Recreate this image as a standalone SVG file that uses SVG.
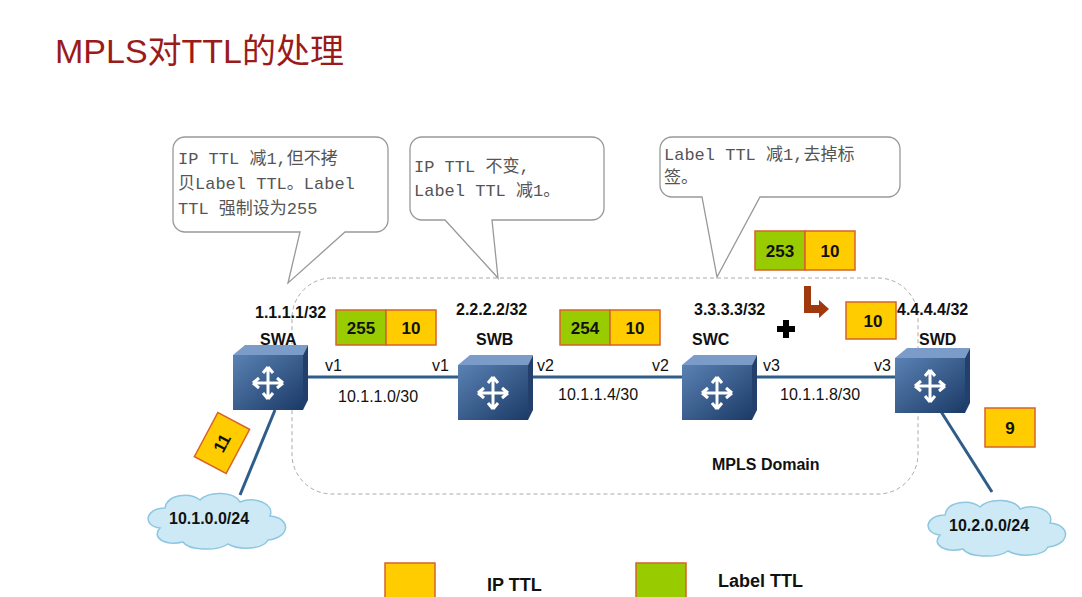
<svg xmlns="http://www.w3.org/2000/svg" width="1082" height="597" viewBox="0 0 1082 597">
<style>
.t{font-family:"Liberation Sans","Noto Sans CJK SC",sans-serif;font-weight:bold;fill:#111}
.m{font-family:"Liberation Mono","Noto Sans CJK SC",monospace;font-size:17px;fill:#555}
.call{fill:#fff;stroke:#999;stroke-width:1.3}
.y{fill:#ffcc00;stroke:#d9622b;stroke-width:1.5}
.g{fill:#99cc00;stroke:#d9622b;stroke-width:1.5}
.lk{stroke:#2f5d8a;stroke-width:3;fill:none}
.cl{fill:#cde9f5;stroke:#8ec7e0;stroke-width:1.5}
</style>
<defs>
<linearGradient id="sw" x1="0" y1="0" x2="1" y2="1"><stop offset="0" stop-color="#5a82b4"/><stop offset="1" stop-color="#1b3a66"/></linearGradient>
<g id="swi">
<polygon points="0,10 12,0 75,0 70,10" fill="#7b9cc8"/>
<polygon points="70,10 75,0 75,55 70,65" fill="#22406b"/>
<rect x="0" y="10" width="70" height="55" fill="url(#sw)"/>
<g stroke="#fff" stroke-width="3" fill="none">
<path d="M20,38 H50 M35,22 V54 M20,38 l6,-5 M20,38 l6,5 M50,38 l-6,-5 M50,38 l-6,5 M35,22 l-5,6 M35,22 l5,6 M35,54 l-5,-6 M35,54 l5,-6"/>
</g>
</g>
</defs>
<rect width="1082" height="597" fill="#fff"/>
<text x="55" y="63" font-family="Liberation Sans,Noto Sans CJK SC,sans-serif" font-size="34" fill="#9b1b1b">MPLS对TTL的处理</text>
<rect x="292" y="278" width="626" height="216" rx="40" fill="none" stroke="#aaa" stroke-dasharray="4,3"/>
<g id="connectors">
<line class="lk" x1="305" y1="377" x2="458" y2="377"/>
<line class="lk" x1="530" y1="377" x2="682" y2="377"/>
<line class="lk" x1="752" y1="377" x2="895" y2="377"/>
<line class="lk" x1="275" y1="410" x2="240" y2="495"/>
<line class="lk" x1="940" y1="410" x2="992" y2="492"/>
</g>
<g id="callout1"><path class="call" d="M185,137 H376 a12,12 0 0 1 12,12 V220 a12,12 0 0 1 -12,12 H345 L288,283 L300,232 H185 a12,12 0 0 1 -12,-12 V149 a12,12 0 0 1 12,-12Z"/>
<text class="m" x="178" y="164">IP TTL 减1,但不拷</text><text class="m" x="178" y="189">贝Label TTL。Label</text><text class="m" x="178" y="214">TTL 强制设为255</text></g>
<g id="callout2"><path class="call" d="M422,137 H592 a12,12 0 0 1 12,12 V208 a12,12 0 0 1 -12,12 H492 L498,278 L445,220 H422 a12,12 0 0 1 -12,-12 V149 a12,12 0 0 1 12,-12Z"/>
<text class="m" x="414" y="172">IP TTL 不变,</text><text class="m" x="414" y="196">Label TTL 减1。</text></g>
<g id="callout3"><path class="call" d="M672,137 H888 a12,12 0 0 1 12,12 V185 a12,12 0 0 1 -12,12 H760 L717,277 L702,197 H672 a12,12 0 0 1 -12,-12 V149 a12,12 0 0 1 12,-12Z"/>
<text class="m" x="664" y="160">Label TTL 减1,去掉标</text><text class="m" x="664" y="183">签。</text></g>
<g id="SWA"><use href="#swi" x="233" y="345"/><text class="t" font-size="16" x="255" y="318">1.1.1.1/32</text><text class="t" font-size="16" x="260" y="345">SWA</text></g>
<g id="SWB"><use href="#swi" x="458" y="355"/><text class="t" font-size="16" x="456" y="315">2.2.2.2/32</text><text class="t" font-size="16" x="476" y="345">SWB</text></g>
<g id="SWC"><use href="#swi" x="682" y="355"/><text class="t" font-size="16" x="694" y="315">3.3.3.3/32</text><text class="t" font-size="16" x="692" y="345">SWC</text></g>
<g id="SWD"><use href="#swi" x="895" y="348"/><text class="t" font-size="16" x="897" y="315">4.4.4.4/32</text><text class="t" font-size="16" x="919" y="345">SWD</text></g>
<g font-family="Liberation Sans,sans-serif" font-size="16" fill="#111">
<text x="325" y="371">v1</text><text x="432" y="371">v1</text><text x="537" y="371">v2</text><text x="652" y="371">v2</text><text x="763" y="371">v3</text><text x="874" y="371">v3</text>
<text x="338" y="402">10.1.1.0/30</text><text x="558" y="400">10.1.1.4/30</text><text x="780" y="400">10.1.1.8/30</text>
</g>
<text class="t" font-size="16" x="712" y="470">MPLS Domain</text>
<g id="cloud1"><path class="cl" d="M160,528 c-18,-2 -15,-20 5,-20 c2,-14 25,-16 35,-8 c10,-10 35,-8 40,2 c15,-6 35,2 30,14 c22,2 20,22 -2,24 c-5,10 -30,10 -40,4 c-12,8 -40,6 -45,-2 c-18,4 -32,-4 -23,-14Z"/><text class="t" font-size="16" x="169" y="524">10.1.0.0/24</text></g>
<g id="cloud2"><path class="cl" d="M940,535 c-18,-2 -15,-20 5,-20 c2,-14 25,-16 35,-8 c10,-10 35,-8 40,2 c15,-6 35,2 30,14 c22,2 20,22 -2,24 c-5,10 -30,10 -40,4 c-12,8 -40,6 -45,-2 c-18,4 -32,-4 -23,-14Z"/><text class="t" font-size="16" x="949" y="531">10.2.0.0/24</text></g>
<g id="pkt1"><rect class="g" x="336" y="310" width="50" height="35"/><rect class="y" x="386" y="310" width="50" height="35"/><text class="t" font-size="17" x="361" y="334" text-anchor="middle">255</text><text class="t" font-size="17" x="411" y="334" text-anchor="middle">10</text></g>
<g id="pkt2"><rect class="g" x="560" y="310" width="50" height="35"/><rect class="y" x="610" y="310" width="50" height="35"/><text class="t" font-size="17" x="585" y="334" text-anchor="middle">254</text><text class="t" font-size="17" x="635" y="334" text-anchor="middle">10</text></g>
<g id="pkt3"><rect class="g" x="755" y="231" width="50" height="39"/><rect class="y" x="805" y="231" width="50" height="39"/><text class="t" font-size="17" x="780" y="257" text-anchor="middle">253</text><text class="t" font-size="17" x="830" y="257" text-anchor="middle">10</text></g>
<g id="pkt4"><rect class="y" x="846" y="302" width="50" height="37"/><text class="t" font-size="17" x="873" y="327" text-anchor="middle">10</text></g>
<g id="pkt5"><rect class="y" x="985" y="408" width="50" height="39"/><text class="t" font-size="17" x="1010" y="434" text-anchor="middle">9</text></g>
<g id="pkt6" transform="translate(222,443) rotate(-62)"><rect class="y" x="-25" y="-18" width="50" height="36"/><text class="t" font-size="17" x="0" y="6" text-anchor="middle">11</text></g>
<path d="M804,286 h7 v19 h8 v-5 l10,9 -10,9 v-5 h-15Z" fill="#a0390e"/>
<path d="M777,326 h6 v-6 h6 v6 h6 v6 h-6 v6 h-6 v-6 h-6Z" fill="#000"/>
<g id="legend"><rect class="y" x="385" y="563" width="50" height="36"/><text class="t" font-size="18" x="487" y="591">IP TTL</text><rect class="g" x="636" y="563" width="50" height="36"/><text class="t" font-size="18" x="718" y="587">Label TTL</text></g>
</svg>
